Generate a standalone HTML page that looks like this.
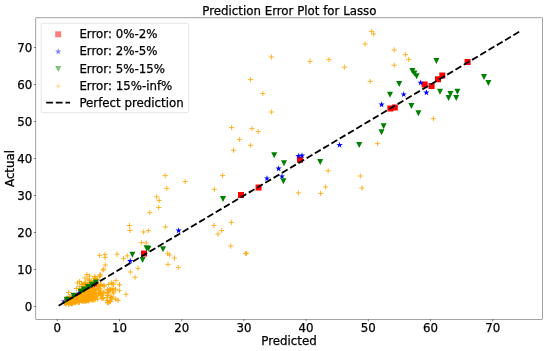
<!DOCTYPE html>
<html lang="en"><head><meta charset="utf-8"><title>Prediction Error Plot for Lasso</title>
<style>html,body{margin:0;padding:0;background:#fff;overflow:hidden}svg{display:block}text{font-family:'DejaVu Sans','Liberation Sans',sans-serif;font-size:11.80px;fill:#000;stroke:#000;stroke-width:0.25px}</style></head>
<body><svg width="550" height="351" viewBox="0 0 550 351">
<rect width="550" height="351" fill="#fff"/>
<g id="pts">
<path fill="#f00" d="M66.0 296.8h6.0v6.0h-6.0zM72.0 293.3h6.0v6.0h-6.0zM78.5 289.4h6.0v6.0h-6.0zM84.0 286.1h6.0v6.0h-6.0zM88.5 283.5h6.0v6.0h-6.0zM92.5 281.1h6.0v6.0h-6.0z"/>
<path fill="#00f" d="M64.3 298.3L65.0 300.6L67.4 300.6L65.5 302.0L66.2 304.3L64.3 302.9L62.4 304.3L63.1 302.0L61.2 300.6L63.6 300.6zM72.0 294.3L72.7 296.6L75.1 296.6L73.2 298.0L73.9 300.3L72.0 298.9L70.1 300.3L70.8 298.0L68.9 296.6L71.3 296.6zM79.0 290.1L79.7 292.4L82.1 292.4L80.2 293.8L80.9 296.1L79.0 294.7L77.1 296.1L77.8 293.8L75.9 292.4L78.3 292.4zM84.5 286.7L85.2 289.0L87.6 289.0L85.7 290.4L86.4 292.7L84.5 291.3L82.6 292.7L83.3 290.4L81.4 289.0L83.8 289.0zM88.5 284.5L89.2 286.8L91.6 286.8L89.7 288.2L90.4 290.5L88.5 289.1L86.6 290.5L87.3 288.2L85.4 286.8L87.8 286.8zM93.0 281.7L93.7 284.0L96.1 284.0L94.2 285.4L94.9 287.7L93.0 286.3L91.1 287.7L91.8 285.4L89.9 284.0L92.3 284.0z"/>
<path fill="none" stroke="#ffa500" stroke-width="0.95" d="M78.4 294.9h5.2M81.0 292.3v5.2M85.7 290.7h5.2M88.3 288.1v5.2M83.3 294.2h5.2M85.9 291.6v5.2M68.7 301.2h5.2M71.3 298.6v5.2M67.3 301.4h5.2M69.9 298.8v5.2M69.4 299.1h5.2M72.0 296.5v5.2M80.9 299.8h5.2M83.5 297.2v5.2M72.0 298.3h5.2M74.6 295.7v5.2M85.2 300.3h5.2M87.8 297.7v5.2M84.1 294.1h5.2M86.7 291.5v5.2M97.7 284.5h5.2M100.3 281.9v5.2M91.6 289.7h5.2M94.2 287.1v5.2M72.8 297.5h5.2M75.4 294.9v5.2M78.0 300.4h5.2M80.6 297.8v5.2M74.2 299.6h5.2M76.8 297.0v5.2M85.5 293.3h5.2M88.1 290.7v5.2M83.5 291.8h5.2M86.1 289.2v5.2M68.8 299.8h5.2M71.4 297.2v5.2M86.4 293.5h5.2M89.0 290.9v5.2M78.2 298.2h5.2M80.8 295.6v5.2M81.5 294.4h5.2M84.1 291.8v5.2M89.5 295.8h5.2M92.1 293.2v5.2M76.2 298.8h5.2M78.8 296.2v5.2M83.0 299.9h5.2M85.6 297.3v5.2M87.7 291.5h5.2M90.3 288.9v5.2M98.1 284.9h5.2M100.7 282.3v5.2M80.7 299.1h5.2M83.3 296.5v5.2M73.1 299.4h5.2M75.7 296.8v5.2M67.4 302.4h5.2M70.0 299.8v5.2M88.6 294.4h5.2M91.2 291.8v5.2M92.3 289.7h5.2M94.9 287.1v5.2M86.8 295.3h5.2M89.4 292.7v5.2M84.2 294.7h5.2M86.8 292.1v5.2M91.0 299.1h5.2M93.6 296.5v5.2M82.0 297.7h5.2M84.6 295.1v5.2M68.8 302.2h5.2M71.4 299.6v5.2M85.7 300.9h5.2M88.3 298.3v5.2M90.4 290.3h5.2M93.0 287.7v5.2M80.0 298.4h5.2M82.6 295.8v5.2M66.0 302.0h5.2M68.6 299.4v5.2M73.7 297.0h5.2M76.3 294.4v5.2M68.7 302.6h5.2M71.3 300.0v5.2M72.2 298.3h5.2M74.8 295.7v5.2M80.1 300.5h5.2M82.7 297.9v5.2M70.0 300.4h5.2M72.6 297.8v5.2M83.5 299.8h5.2M86.1 297.2v5.2M90.3 298.0h5.2M92.9 295.4v5.2M77.2 297.2h5.2M79.8 294.6v5.2M79.3 300.8h5.2M81.9 298.2v5.2M96.3 286.1h5.2M98.9 283.5v5.2M74.0 297.4h5.2M76.6 294.8v5.2M75.9 298.2h5.2M78.5 295.6v5.2M84.4 292.8h5.2M87.0 290.2v5.2M63.4 302.9h5.2M66.0 300.3v5.2M79.6 297.5h5.2M82.2 294.9v5.2M96.0 293.6h5.2M98.6 291.0v5.2M82.8 296.9h5.2M85.4 294.3v5.2M86.3 290.3h5.2M88.9 287.7v5.2M93.3 295.9h5.2M95.9 293.3v5.2M92.2 296.5h5.2M94.8 293.9v5.2M80.1 295.8h5.2M82.7 293.2v5.2M71.1 301.0h5.2M73.7 298.4v5.2M68.9 299.3h5.2M71.5 296.7v5.2M75.1 296.5h5.2M77.7 293.9v5.2M78.8 294.2h5.2M81.4 291.6v5.2M62.0 302.9h5.2M64.6 300.3v5.2M71.0 299.5h5.2M73.6 296.9v5.2M66.3 303.8h5.2M68.9 301.2v5.2M84.9 291.7h5.2M87.5 289.1v5.2M76.4 297.0h5.2M79.0 294.4v5.2M79.4 294.2h5.2M82.0 291.6v5.2M91.3 299.9h5.2M93.9 297.3v5.2M81.8 295.9h5.2M84.4 293.3v5.2M70.2 298.7h5.2M72.8 296.1v5.2M78.9 295.3h5.2M81.5 292.7v5.2M90.6 289.0h5.2M93.2 286.4v5.2M66.1 304.2h5.2M68.7 301.6v5.2M83.1 292.5h5.2M85.7 289.9v5.2M83.4 291.7h5.2M86.0 289.1v5.2M83.1 301.2h5.2M85.7 298.6v5.2M91.8 295.0h5.2M94.4 292.4v5.2M76.7 297.0h5.2M79.3 294.4v5.2M73.7 301.2h5.2M76.3 298.6v5.2M83.2 298.7h5.2M85.8 296.1v5.2M78.6 295.2h5.2M81.2 292.6v5.2M90.0 300.0h5.2M92.6 297.4v5.2M91.4 296.8h5.2M94.0 294.2v5.2M90.3 296.1h5.2M92.9 293.5v5.2M75.7 298.6h5.2M78.3 296.0v5.2M79.2 293.9h5.2M81.8 291.3v5.2M66.5 301.1h5.2M69.1 298.5v5.2M76.6 299.7h5.2M79.2 297.1v5.2M96.2 289.8h5.2M98.8 287.2v5.2M95.1 299.1h5.2M97.7 296.5v5.2M96.1 288.7h5.2M98.7 286.1v5.2M75.5 296.7h5.2M78.1 294.1v5.2M74.7 296.9h5.2M77.3 294.3v5.2M85.1 299.7h5.2M87.7 297.1v5.2M91.0 292.3h5.2M93.6 289.7v5.2M85.8 298.2h5.2M88.4 295.6v5.2M70.2 301.5h5.2M72.8 298.9v5.2M93.7 295.8h5.2M96.3 293.2v5.2M88.2 293.3h5.2M90.8 290.7v5.2M74.1 301.2h5.2M76.7 298.6v5.2M78.6 300.1h5.2M81.2 297.5v5.2M97.3 288.6h5.2M99.9 286.0v5.2M80.3 301.3h5.2M82.9 298.7v5.2M87.6 290.5h5.2M90.2 287.9v5.2M72.1 297.9h5.2M74.7 295.3v5.2M93.5 296.3h5.2M96.1 293.7v5.2M72.9 301.9h5.2M75.5 299.3v5.2M98.1 292.4h5.2M100.7 289.8v5.2M79.1 297.6h5.2M81.7 295.0v5.2M72.3 297.4h5.2M74.9 294.8v5.2M97.3 292.5h5.2M99.9 289.9v5.2M83.1 300.6h5.2M85.7 298.0v5.2M81.1 300.3h5.2M83.7 297.7v5.2M90.5 289.5h5.2M93.1 286.9v5.2M76.4 296.7h5.2M79.0 294.1v5.2M76.1 299.0h5.2M78.7 296.4v5.2M76.7 297.4h5.2M79.3 294.8v5.2M72.3 302.7h5.2M74.9 300.1v5.2M79.2 296.7h5.2M81.8 294.1v5.2M84.2 300.0h5.2M86.8 297.4v5.2M80.8 300.9h5.2M83.4 298.3v5.2M82.6 296.1h5.2M85.2 293.5v5.2M83.0 291.9h5.2M85.6 289.3v5.2M81.2 293.7h5.2M83.8 291.1v5.2M63.4 304.2h5.2M66.0 301.6v5.2M73.9 299.0h5.2M76.5 296.4v5.2M87.6 294.5h5.2M90.2 291.9v5.2M78.5 297.5h5.2M81.1 294.9v5.2M83.7 298.6h5.2M86.3 296.0v5.2M71.2 300.5h5.2M73.8 297.9v5.2M76.3 296.6h5.2M78.9 294.0v5.2M88.9 293.5h5.2M91.5 290.9v5.2M83.8 298.3h5.2M86.4 295.7v5.2M93.8 290.7h5.2M96.4 288.1v5.2M84.9 295.0h5.2M87.5 292.4v5.2M82.8 297.8h5.2M85.4 295.2v5.2M81.5 296.5h5.2M84.1 293.9v5.2M82.1 300.9h5.2M84.7 298.3v5.2M86.9 299.0h5.2M89.5 296.4v5.2M95.4 287.7h5.2M98.0 285.1v5.2M83.7 300.6h5.2M86.3 298.0v5.2M91.0 288.6h5.2M93.6 286.0v5.2M71.9 299.5h5.2M74.5 296.9v5.2M69.5 299.6h5.2M72.1 297.0v5.2M69.6 301.7h5.2M72.2 299.1v5.2M89.2 298.7h5.2M91.8 296.1v5.2M73.2 300.9h5.2M75.8 298.3v5.2M86.0 291.1h5.2M88.6 288.5v5.2M92.6 299.2h5.2M95.2 296.6v5.2M75.4 302.4h5.2M78.0 299.8v5.2M80.3 296.6h5.2M82.9 294.0v5.2M99.2 295.3h5.2M101.8 292.7v5.2M73.5 298.8h5.2M76.1 296.2v5.2M82.8 294.2h5.2M85.4 291.6v5.2M74.7 297.6h5.2M77.3 295.0v5.2M87.5 289.6h5.2M90.1 287.0v5.2M83.6 294.8h5.2M86.2 292.2v5.2M65.5 301.7h5.2M68.1 299.1v5.2M85.1 294.9h5.2M87.7 292.3v5.2M69.1 303.8h5.2M71.7 301.2v5.2M89.3 299.9h5.2M91.9 297.3v5.2M71.1 298.9h5.2M73.7 296.3v5.2M67.4 303.0h5.2M70.0 300.4v5.2M77.0 295.5h5.2M79.6 292.9v5.2M80.8 300.8h5.2M83.4 298.2v5.2M90.3 290.0h5.2M92.9 287.4v5.2M73.0 302.6h5.2M75.6 300.0v5.2M84.0 297.5h5.2M86.6 294.9v5.2M70.4 298.5h5.2M73.0 295.9v5.2M86.6 293.4h5.2M89.2 290.8v5.2M69.5 303.4h5.2M72.1 300.8v5.2M85.4 298.3h5.2M88.0 295.7v5.2M70.1 302.8h5.2M72.7 300.2v5.2M69.2 303.0h5.2M71.8 300.4v5.2M81.5 294.7h5.2M84.1 292.1v5.2M83.6 300.4h5.2M86.2 297.8v5.2M76.9 295.5h5.2M79.5 292.9v5.2M83.1 293.2h5.2M85.7 290.6v5.2M71.4 298.4h5.2M74.0 295.8v5.2M68.2 300.0h5.2M70.8 297.4v5.2M78.1 296.0h5.2M80.7 293.4v5.2M88.5 291.2h5.2M91.1 288.6v5.2M82.5 293.0h5.2M85.1 290.4v5.2M79.0 294.0h5.2M81.6 291.4v5.2M76.4 295.3h5.2M79.0 292.7v5.2M87.8 294.4h5.2M90.4 291.8v5.2M74.5 298.7h5.2M77.1 296.1v5.2M95.0 286.3h5.2M97.6 283.7v5.2M90.3 292.0h5.2M92.9 289.4v5.2M82.4 299.5h5.2M85.0 296.9v5.2M80.1 296.8h5.2M82.7 294.2v5.2M86.6 300.5h5.2M89.2 297.9v5.2M78.9 300.4h5.2M81.5 297.8v5.2M87.1 295.7h5.2M89.7 293.1v5.2M80.4 295.3h5.2M83.0 292.7v5.2M68.5 299.7h5.2M71.1 297.1v5.2M69.4 302.2h5.2M72.0 299.6v5.2M76.5 295.8h5.2M79.1 293.2v5.2M70.2 302.6h5.2M72.8 300.0v5.2M92.1 294.5h5.2M94.7 291.9v5.2M77.3 295.9h5.2M79.9 293.3v5.2M77.6 297.4h5.2M80.2 294.8v5.2M73.3 299.0h5.2M75.9 296.4v5.2M76.8 302.2h5.2M79.4 299.6v5.2M97.4 290.8h5.2M100.0 288.2v5.2M76.2 302.3h5.2M78.8 299.7v5.2M78.0 296.4h5.2M80.6 293.8v5.2M62.5 303.2h5.2M65.1 300.6v5.2M82.0 296.0h5.2M84.6 293.4v5.2M74.8 298.8h5.2M77.4 296.2v5.2M63.6 302.4h5.2M66.2 299.8v5.2M70.4 299.9h5.2M73.0 297.3v5.2M67.6 299.9h5.2M70.2 297.3v5.2M77.9 295.6h5.2M80.5 293.0v5.2M84.3 295.4h5.2M86.9 292.8v5.2M88.3 295.6h5.2M90.9 293.0v5.2M87.3 298.9h5.2M89.9 296.3v5.2M80.1 295.3h5.2M82.7 292.7v5.2M98.6 284.9h5.2M101.2 282.3v5.2M87.5 295.6h5.2M90.1 293.0v5.2M67.8 303.2h5.2M70.4 300.6v5.2M92.9 293.6h5.2M95.5 291.0v5.2M87.8 297.8h5.2M90.4 295.2v5.2M72.6 299.8h5.2M75.2 297.2v5.2M82.6 299.5h5.2M85.2 296.9v5.2M89.8 297.5h5.2M92.4 294.9v5.2M84.3 299.8h5.2M86.9 297.2v5.2M86.5 296.6h5.2M89.1 294.0v5.2M75.8 295.7h5.2M78.4 293.1v5.2M72.4 298.9h5.2M75.0 296.3v5.2M71.2 302.4h5.2M73.8 299.8v5.2M106.0 290.7h5.2M108.6 288.1v5.2M107.1 289.7h5.2M109.7 287.1v5.2M105.0 302.7h5.2M107.6 300.1v5.2M110.5 288.4h5.2M113.1 285.8v5.2M105.2 292.5h5.2M107.8 289.9v5.2M107.7 301.5h5.2M110.3 298.9v5.2M109.2 298.0h5.2M111.8 295.4v5.2M99.5 298.1h5.2M102.1 295.5v5.2M109.1 298.9h5.2M111.7 296.3v5.2M109.3 284.0h5.2M111.9 281.4v5.2M105.0 295.4h5.2M107.6 292.8v5.2M104.8 289.7h5.2M107.4 287.1v5.2M109.8 290.9h5.2M112.4 288.3v5.2M107.4 301.3h5.2M110.0 298.7v5.2M100.6 298.2h5.2M103.2 295.6v5.2M109.3 296.9h5.2M111.9 294.3v5.2M106.2 302.6h5.2M108.8 300.0v5.2M99.3 298.1h5.2M101.9 295.5v5.2M107.9 289.5h5.2M110.5 286.9v5.2M108.0 297.2h5.2M110.6 294.6v5.2M105.4 293.9h5.2M108.0 291.3v5.2M104.6 300.5h5.2M107.2 297.9v5.2M113.1 299.0h5.2M115.7 296.4v5.2M116.9 284.8h5.2M119.5 282.2v5.2M98.2 295.0h5.2M100.8 292.4v5.2M111.1 284.2h5.2M113.7 281.6v5.2M104.4 297.6h5.2M107.0 295.0v5.2M101.3 285.3h5.2M103.9 282.7v5.2M101.3 292.1h5.2M103.9 289.5v5.2M100.5 293.3h5.2M103.1 290.7v5.2M115.4 300.3h5.2M118.0 297.7v5.2M111.1 293.0h5.2M113.7 290.4v5.2M112.9 289.3h5.2M115.5 286.7v5.2M101.5 286.1h5.2M104.1 283.5v5.2M104.9 302.3h5.2M107.5 299.7v5.2M97.6 294.6h5.2M100.2 292.0v5.2"/>
<path fill="none" stroke="#ffa500" stroke-width="0.95" d="M68.2 296.8h5.2M70.8 294.2v5.2M65.3 298.5h5.2M67.9 295.9v5.2M67.0 296.5h5.2M69.6 293.9v5.2M64.0 298.4h5.2M66.6 295.8v5.2M90.5 283.3h5.2M93.1 280.7v5.2M92.8 278.2h5.2M95.4 275.6v5.2M92.0 281.3h5.2M94.6 278.7v5.2M83.1 286.0h5.2M85.7 283.4v5.2M97.0 276.4h5.2M99.6 273.8v5.2M82.9 285.8h5.2M85.5 283.2v5.2M81.4 289.1h5.2M84.0 286.5v5.2M77.2 286.6h5.2M79.8 284.0v5.2M81.6 283.4h5.2M84.2 280.8v5.2M80.8 288.1h5.2M83.4 285.5v5.2M85.2 286.0h5.2M87.8 283.4v5.2M83.1 282.4h5.2M85.7 279.8v5.2M91.6 278.3h5.2M94.2 275.7v5.2M86.8 280.4h5.2M89.4 277.8v5.2M93.3 278.9h5.2M95.9 276.3v5.2M88.2 285.1h5.2M90.8 282.5v5.2M88.4 282.4h5.2M91.0 279.8v5.2M88.8 281.0h5.2M91.4 278.4v5.2M81.6 289.0h5.2M84.2 286.4v5.2M92.8 281.8h5.2M95.4 279.2v5.2M84.6 285.4h5.2M87.2 282.8v5.2M81.8 284.5h5.2M84.4 281.9v5.2M94.9 279.8h5.2M97.5 277.2v5.2M87.2 284.1h5.2M89.8 281.5v5.2M85.8 284.3h5.2M88.4 281.7v5.2M79.0 289.8h5.2M81.6 287.2v5.2M80.0 284.6h5.2M82.6 282.0v5.2M85.0 285.9h5.2M87.6 283.3v5.2M92.2 276.7h5.2M94.8 274.1v5.2M84.3 286.8h5.2M86.9 284.2v5.2"/>
<path fill="#008000" d="M63.8 296.8h6.0l-3.0 6.0zM70.6 292.7h6.0l-3.0 6.0zM77.6 288.5h6.0l-3.0 6.0zM81.0 286.5h6.0l-3.0 6.0zM85.0 284.1h6.0l-3.0 6.0zM89.0 281.8h6.0l-3.0 6.0zM92.8 279.5h6.0l-3.0 6.0z"/>
<path fill="#f00" d="M464.6 59.0h6.0v6.0h-6.0zM439.3 72.4h6.0v6.0h-6.0zM435.0 76.2h6.0v6.0h-6.0zM421.6 81.6h6.0v6.0h-6.0zM428.6 83.0h6.0v6.0h-6.0zM387.4 105.4h6.0v6.0h-6.0zM391.8 104.4h6.0v6.0h-6.0zM297.0 156.8h6.0v6.0h-6.0zM238.0 192.0h6.0v6.0h-6.0zM255.6 184.6h6.0v6.0h-6.0zM141.0 250.6h6.0v6.0h-6.0z"/>
<path fill="#00f" d="M420.6 79.5L421.3 81.8L423.7 81.8L421.8 83.2L422.5 85.5L420.6 84.1L418.7 85.5L419.4 83.2L417.5 81.8L419.9 81.8zM403.7 91.1L404.4 93.4L406.8 93.4L404.9 94.8L405.6 97.1L403.7 95.7L401.8 97.1L402.5 94.8L400.6 93.4L403.0 93.4zM426.4 89.3L427.1 91.6L429.5 91.6L427.6 93.0L428.3 95.3L426.4 93.9L424.5 95.3L425.2 93.0L423.3 91.6L425.7 91.6zM381.6 101.3L382.3 103.6L384.7 103.6L382.8 105.0L383.5 107.3L381.6 105.9L379.7 107.3L380.4 105.0L378.5 103.6L380.9 103.6zM339.6 141.7L340.3 144.0L342.7 144.0L340.8 145.4L341.5 147.7L339.6 146.3L337.7 147.7L338.4 145.4L336.5 144.0L338.9 144.0zM267.0 175.1L267.7 177.4L270.1 177.4L268.2 178.8L268.9 181.1L267.0 179.7L265.1 181.1L265.8 178.8L263.9 177.4L266.3 177.4zM278.6 165.3L279.3 167.6L281.7 167.6L279.8 169.0L280.5 171.3L278.6 169.9L276.7 171.3L277.4 169.0L275.5 167.6L277.9 167.6zM282.0 173.1L282.7 175.4L285.1 175.4L283.2 176.8L283.9 179.1L282.0 177.7L280.1 179.1L280.8 176.8L278.9 175.4L281.3 175.4zM298.4 152.7L299.1 155.0L301.5 155.0L299.6 156.4L300.3 158.7L298.4 157.3L296.5 158.7L297.2 156.4L295.3 155.0L297.7 155.0zM302.0 152.3L302.7 154.6L305.1 154.6L303.2 156.0L303.9 158.3L302.0 156.9L300.1 158.3L300.8 156.0L298.9 154.6L301.3 154.6zM178.6 227.3L179.3 229.6L181.7 229.6L179.8 231.0L180.5 233.3L178.6 231.9L176.7 233.3L177.4 231.0L175.5 229.6L177.9 229.6zM130.2 257.7L130.9 260.0L133.3 260.0L131.4 261.4L132.1 263.7L130.2 262.3L128.3 263.7L129.0 261.4L127.1 260.0L129.5 260.0z"/>
<path fill="#008000" d="M396.2 80.9h6.0l-3.0 6.0zM433.4 58.1h6.0l-3.0 6.0zM409.4 68.1h6.0l-3.0 6.0zM411.4 70.5h6.0l-3.0 6.0zM413.6 73.3h6.0l-3.0 6.0zM481.0 74.1h6.0l-3.0 6.0zM485.4 79.9h6.0l-3.0 6.0zM437.0 88.7h6.0l-3.0 6.0zM447.4 91.1h6.0l-3.0 6.0zM454.4 88.7h6.0l-3.0 6.0zM445.6 95.1h6.0l-3.0 6.0zM453.2 95.1h6.0l-3.0 6.0zM408.4 103.1h6.0l-3.0 6.0zM415.4 110.3h6.0l-3.0 6.0zM387.0 91.7h6.0l-3.0 6.0zM380.6 123.3h6.0l-3.0 6.0zM378.5 129.2h6.0l-3.0 6.0zM356.2 141.9h6.0l-3.0 6.0zM317.2 159.1h6.0l-3.0 6.0zM271.2 152.3h6.0l-3.0 6.0zM281.0 160.3h6.0l-3.0 6.0zM280.4 178.3h6.0l-3.0 6.0zM220.0 196.1h6.0l-3.0 6.0zM143.6 245.3h6.0l-3.0 6.0zM145.4 245.7h6.0l-3.0 6.0zM160.0 246.3h6.0l-3.0 6.0zM129.4 251.7h6.0l-3.0 6.0zM139.6 257.1h6.0l-3.0 6.0z"/>
<path fill="none" stroke="#ffa500" stroke-width="0.8" d="M268.8 57.0h5.2M271.4 54.4v5.2M248.0 79.6h5.2M250.6 77.0v5.2M307.4 61.4h5.2M310.0 58.8v5.2M326.4 59.6h5.2M329.0 57.0v5.2M341.8 67.2h5.2M344.4 64.6v5.2M362.4 44.0h5.2M365.0 41.4v5.2M369.0 31.4h5.2M371.6 28.8v5.2M371.0 34.0h5.2M373.6 31.4v5.2M391.6 50.0h5.2M394.2 47.4v5.2M402.8 54.6h5.2M405.4 52.0v5.2M406.1 59.4h5.2M408.7 56.8v5.2M391.6 65.2h5.2M394.2 62.6v5.2M367.6 81.4h5.2M370.2 78.8v5.2M430.8 118.6h5.2M433.4 116.0v5.2M375.0 143.6h5.2M377.6 141.0v5.2M325.6 170.8h5.2M328.2 168.2v5.2M357.8 176.0h5.2M360.4 173.4v5.2M323.0 187.0h5.2M325.6 184.4v5.2M359.4 188.0h5.2M362.0 185.4v5.2M318.0 193.4h5.2M320.6 190.8v5.2M295.8 192.8h5.2M298.4 190.2v5.2M260.2 93.6h5.2M262.8 91.0v5.2M269.0 112.0h5.2M271.6 109.4v5.2M229.0 127.6h5.2M231.6 125.0v5.2M249.4 128.6h5.2M252.0 126.0v5.2M255.6 131.6h5.2M258.2 129.0v5.2M237.0 139.4h5.2M239.6 136.8v5.2M248.0 145.3h5.2M250.6 142.7v5.2M230.9 150.2h5.2M233.5 147.6v5.2M220.0 175.6h5.2M222.6 173.0v5.2M211.7 189.3h5.2M214.3 186.7v5.2M162.6 175.6h5.2M165.2 173.0v5.2M182.6 181.6h5.2M185.2 179.0v5.2M164.2 188.4h5.2M166.8 185.8v5.2M154.0 196.8h5.2M156.6 194.2v5.2M156.6 200.4h5.2M159.2 197.8v5.2M156.1 207.5h5.2M158.7 204.9v5.2M147.2 212.6h5.2M149.8 210.0v5.2M126.8 225.5h5.2M129.4 222.9v5.2M127.4 230.4h5.2M130.0 227.8v5.2M141.0 232.0h5.2M143.6 229.4v5.2M145.8 230.6h5.2M148.4 228.0v5.2M162.8 227.0h5.2M165.4 224.4v5.2M211.3 225.5h5.2M213.9 222.9v5.2M215.4 234.0h5.2M218.0 231.4v5.2M138.8 242.6h5.2M141.4 240.0v5.2M143.6 243.0h5.2M146.2 240.4v5.2M114.4 254.2h5.2M117.0 251.6v5.2M120.9 258.6h5.2M123.5 256.0v5.2M124.7 255.8h5.2M127.3 253.2v5.2M165.0 253.4h5.2M167.6 250.8v5.2M167.0 255.0h5.2M169.6 252.4v5.2M171.8 258.0h5.2M174.4 255.4v5.2M165.4 264.4h5.2M168.0 261.8v5.2M175.8 267.4h5.2M178.4 264.8v5.2M135.4 268.4h5.2M138.0 265.8v5.2M127.8 272.0h5.2M130.4 269.4v5.2M228.8 222.4h5.2M231.4 219.8v5.2M219.0 230.6h5.2M221.6 228.0v5.2M228.2 246.0h5.2M230.8 243.4v5.2M243.0 253.6h5.2M245.6 251.0v5.2M243.9 253.2h5.2M246.5 250.6v5.2M132.4 277.3h5.2M135.0 274.7v5.2M102.4 257.5h5.2M105.0 254.9v5.2M102.7 265.0h5.2M105.3 262.4v5.2M101.1 269.2h5.2M103.7 266.6v5.2M97.0 255.4h5.2M99.6 252.8v5.2M102.4 254.4h5.2M105.0 251.8v5.2M113.4 280.4h5.2M116.0 277.8v5.2M109.1 282.7h5.2M111.7 280.1v5.2M105.9 284.5h5.2M108.5 281.9v5.2M116.8 290.6h5.2M119.4 288.0v5.2M123.4 294.3h5.2M126.0 291.7v5.2M97.4 275.0h5.2M100.0 272.4v5.2M84.2 274.5h5.2M86.8 271.9v5.2M86.9 276.0h5.2M89.5 273.4v5.2M97.9 275.0h5.2M100.5 272.4v5.2M76.9 281.5h5.2M79.5 278.9v5.2M74.9 283.0h5.2M77.5 280.4v5.2M78.9 283.0h5.2M81.5 280.4v5.2M82.4 278.0h5.2M85.0 275.4v5.2M85.4 279.0h5.2M88.0 276.4v5.2M65.9 292.5h5.2M68.5 289.9v5.2M73.9 288.5h5.2M76.5 285.9v5.2M100.4 270.0h5.2M103.0 267.4v5.2"/>
</g>
<line x1="62.60" y1="303.35" x2="98.10" y2="282.24" stroke="#0a3a12" stroke-width="1.8"/>
<line x1="58.60" y1="305.73" x2="519.70" y2="31.51" stroke="#000" stroke-width="1.8" stroke-dasharray="6.72 2.9"/>
<rect x="35.85" y="17.85" width="506.70" height="301.45" fill="none" stroke="#333" stroke-width="0.45"/>
<path d="M57.30 319.30v2M35.85 306.50h-2M119.50 319.30v2M35.85 269.51h-2M181.70 319.30v2M35.85 232.52h-2M243.90 319.30v2M35.85 195.53h-2M306.10 319.30v2M35.85 158.54h-2M368.30 319.30v2M35.85 121.55h-2M430.50 319.30v2M35.85 84.56h-2M492.70 319.30v2M35.85 47.57h-2" stroke="#000" stroke-width="0.5" fill="none"/>
<text x="57.3" y="331.6" text-anchor="middle">0</text>
<text x="32.2" y="310.8" text-anchor="end">0</text>
<text x="119.5" y="331.6" text-anchor="middle">10</text>
<text x="32.2" y="273.8" text-anchor="end">10</text>
<text x="181.7" y="331.6" text-anchor="middle">20</text>
<text x="32.2" y="236.8" text-anchor="end">20</text>
<text x="243.9" y="331.6" text-anchor="middle">30</text>
<text x="32.2" y="199.8" text-anchor="end">30</text>
<text x="306.1" y="331.6" text-anchor="middle">40</text>
<text x="32.2" y="162.8" text-anchor="end">40</text>
<text x="368.3" y="331.6" text-anchor="middle">50</text>
<text x="32.2" y="125.9" text-anchor="end">50</text>
<text x="430.5" y="331.6" text-anchor="middle">60</text>
<text x="32.2" y="88.9" text-anchor="end">60</text>
<text x="492.7" y="331.6" text-anchor="middle">70</text>
<text x="32.2" y="51.9" text-anchor="end">70</text>
<text x="289.4" y="14.5" text-anchor="middle">Prediction Error Plot for Lasso</text>
<text x="289" y="345.0" text-anchor="middle">Predicted</text>
<text transform="translate(13.8 168.5) rotate(-90)" text-anchor="middle">Actual</text>
<rect x="41.2" y="23.2" width="147.4" height="89.5" rx="1.6" fill="#fff" fill-opacity="0.8" stroke="#d4d4d4" stroke-width="0.6"/>
<path fill="#f00" fill-opacity="0.5" d="M55.2 31.3h6.0v6.0h-6.0z"/>
<path fill="#00f" fill-opacity="0.5" d="M58.2 48.3L58.9 50.6L61.3 50.6L59.4 52.0L60.1 54.3L58.2 52.9L56.3 54.3L57.0 52.0L55.1 50.6L57.5 50.6z"/>
<path fill="#008000" fill-opacity="0.5" d="M55.2 66.0h6.0l-3.0 6.0z"/>
<path fill="none" stroke="#ffa500" stroke-opacity="0.45" stroke-width="0.9" d="M55.6 86.0h5.2M58.2 83.4v5.2"/>
<line x1="46.2" y1="102.6" x2="70" y2="102.6" stroke="#000" stroke-width="1.8" stroke-dasharray="6.72 2.9"/>
<text x="79.4" y="37.9">Error: 0%-2%</text>
<text x="79.4" y="55.2">Error: 2%-5%</text>
<text x="79.4" y="72.6">Error: 5%-15%</text>
<text x="79.4" y="89.9">Error: 15%-inf%</text>
<text x="79.4" y="106.9">Perfect prediction</text>
</svg></body></html>
